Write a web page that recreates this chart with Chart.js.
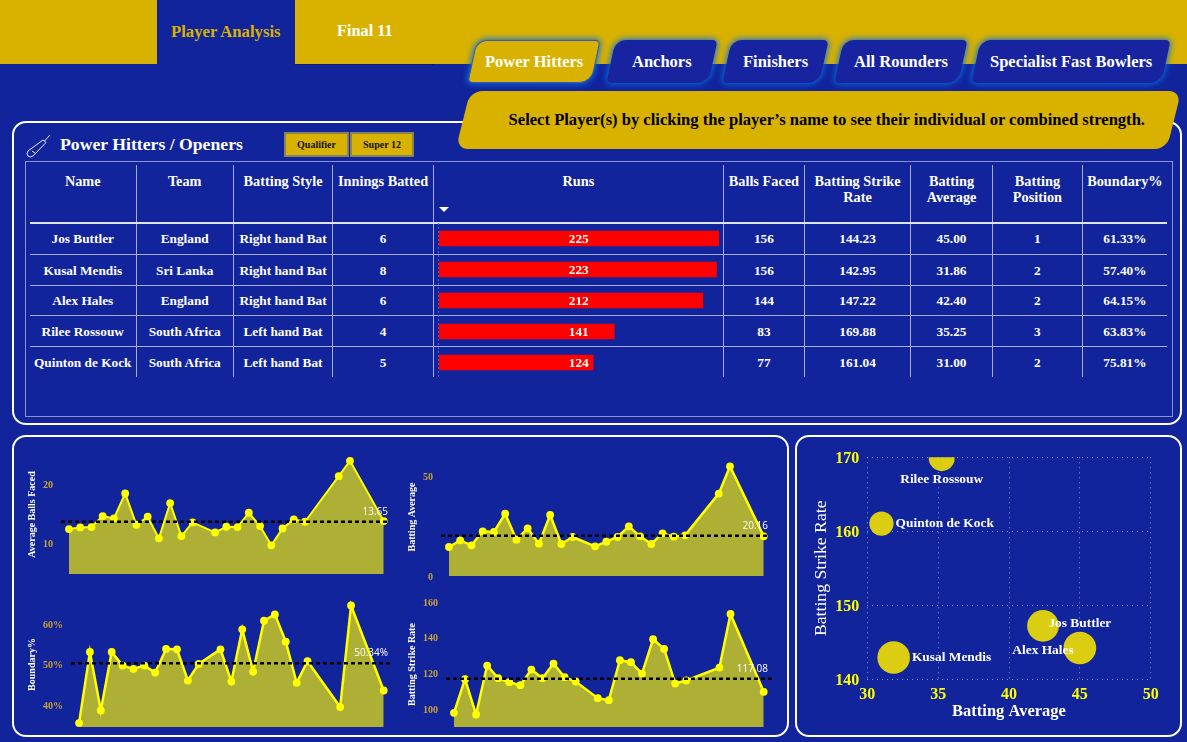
<!DOCTYPE html>
<html>
<head>
<meta charset="utf-8">
<title>Player Analysis</title>
<script src="https://cdn.jsdelivr.net/npm/chart.js@4"></script>
<style>
  html, body { margin: 0; padding: 0; }
  body { width: 1187px; height: 742px; overflow: hidden; background: #11249c; position: relative;
         font-family: "Liberation Serif", serif; font-weight: bold; color: #fff; }
  .abs, canvas { position: absolute; }
  #band { left: 0; top: 0; width: 1187px; height: 64px; background: #d9b200; }
  #bandLine { left: 295px; top: 64px; width: 139px; height: 1px; background: #0c1a78; }
  #tabActive { left: 156.5px; top: 0; width: 138.5px; height: 64px; background: #11249c; }
  .navText { top: 22px; font-size: 16.7px; line-height: 20px; }
  .pill { top: 39.5px; height: 43px; box-sizing: border-box; background: #18249f; transform: skewX(-12deg);
          border-radius: 10px 5px 12px 5px; box-shadow: 0 0 6px 1px #0a6fe0; text-align: center;
          font-size: 16.5px; line-height: 43px; }
  .pill span { display: inline-block; transform: skewX(12deg); }
  .pill.on { background: #d9b200; border: 1px solid #3c5aa8; line-height: 41px; }
  #banner { left: 463px; top: 91px; width: 711px; height: 58px; background: #d9b200; transform: skewX(-14deg);
            border-radius: 12px; }
  #bannerText { left: 456px; top: 110px; width: 689px; text-align: right; color: #000; font-size: 16.57px; line-height: 20px; white-space: nowrap; }
  .panel { box-sizing: border-box; border: 2px solid #fff; border-radius: 14px; }
  #panelTop { left: 12px; top: 121px; width: 1170px; height: 304px; }
  #panelLeft { left: 12px; top: 435px; width: 777px; height: 302px; }
  #panelRight { left: 795px; top: 435px; width: 387px; height: 302px; }
  #tableBox { left: 24.5px; top: 160.5px; width: 1148px; height: 256px; box-sizing: border-box; border: 1.5px solid #8a92d8; }
  #title { left: 60px; top: 134px; font-size: 17.7px; line-height: 21px; }
  .slicer { top: 132px; height: 25px; box-sizing: border-box; background: #d9b200; border: 2px solid #86825a; color: #111;
            font-size: 10px; line-height: 21px; text-align: center; }
  #tbl { left: 30px; top: 165px; border-collapse: collapse; table-layout: fixed; width: 1137px; font-size: 13.3px; }
  #tbl td, #tbl th { padding: 0; text-align: center; border-right: 1px solid #a6acea; overflow: hidden; white-space: nowrap; font-weight: bold; }
  #tbl th { height: 58px; vertical-align: top; line-height: 16px; padding-top: 8px; box-sizing: border-box; white-space: pre-line; font-size: 14.3px; border-bottom: 2px solid #dfe2f8; }
  #tbl td { vertical-align: middle; }
  #tbl tr.row td { border-bottom: 1px solid #a6acea; }
  #tbl tr.row + tr.row td { padding-top: 2px; }
  #tbl tr.row:last-child td { border-bottom: 0; padding-top: 0; }
  #tbl td:last-child, #tbl th:last-child { border-right: 0; }
  #sortMark { left: 438.5px; top: 207px; width: 0; height: 0; border-left: 5px solid transparent; border-right: 5px solid transparent; border-top: 5px solid #fff; }
</style>
</head>
<body>
<div class="abs" id="band"></div>
<div class="abs" id="bandLine"></div>
<div class="abs" id="tabActive"></div>
<div class="abs navText" style="left:171px;color:#d9b200">Player Analysis</div>
<div class="abs navText" style="left:337px;top:21px;font-size:16.3px">Final 11</div>

<div class="abs panel" id="panelTop"></div>
<div class="abs panel" id="panelLeft"></div>
<div class="abs panel" id="panelRight"></div>

<div class="abs pill on" style="left:472px;width:124px"><span>Power Hitters</span></div>
<div class="abs pill" style="left:611px;width:102px"><span>Anchors</span></div>
<div class="abs pill" style="left:727px;width:97px"><span>Finishers</span></div>
<div class="abs pill" style="left:839px;width:124px"><span>All Rounders</span></div>
<div class="abs pill" style="left:976px;width:190px"><span>Specialist Fast Bowlers</span></div>

<div class="abs" id="banner"></div>
<div class="abs" id="bannerText">Select Player(s) by clicking the player’s name to see their individual or combined strength.</div>

<svg class="abs" style="left:26px;top:134px" width="26" height="24" viewBox="0 0 26 24" fill="none" stroke="#e8eafc" stroke-width="1">
  <path d="M17 6 L20 8.5 L7 22 Q4 24 2 22 Q0 20 2 17 Z"/>
  <path d="M18.5 7 L24 1"/>
  <path d="M6 17 L9 19"/>
</svg>
<div class="abs" id="title">Power Hitters / Openers</div>
<div class="abs slicer" style="left:284px;width:65px">Qualifier</div>
<div class="abs slicer" style="left:350px;width:64px">Super 12</div>

<div class="abs" id="tableBox"></div>
<table class="abs" id="tbl">
  <colgroup>
    <col style="width:106px"><col style="width:97.4px"><col style="width:99.2px"><col style="width:101px"><col style="width:289.6px">
    <col style="width:81.4px"><col style="width:106px"><col style="width:81.9px"><col style="width:89.9px"><col style="width:84.6px">
  </colgroup>
  <thead><tr id="headRow"></tr></thead>
  <tbody id="tblBody"></tbody>
</table>
<div class="abs" id="sortMark"></div>

<canvas id="runsChart" width="289" height="155" style="left:434px;top:223px"></canvas>
<canvas id="ballsChart" width="371" height="135" style="left:26px;top:447px"></canvas>
<canvas id="avgChart" width="370" height="134" style="left:406px;top:450px"></canvas>
<canvas id="boundaryChart" width="372" height="141" style="left:26px;top:594px"></canvas>
<canvas id="srChart" width="374" height="141" style="left:406px;top:594px"></canvas>
<canvas id="bubbleChart" width="352" height="277" style="left:811px;top:445px"></canvas>

<script>
// table data
const headers = ['Name', 'Team', 'Batting Style', 'Innings Batted', 'Runs', 'Balls Faced', 'Batting Strike\nRate', 'Batting\nAverage', 'Batting\nPosition', 'Boundary%'];
const players = ['Jos Buttler', 'Kusal Mendis', 'Alex Hales', 'Rilee Rossouw', 'Quinton de Kock'];
const teams = ['England', 'Sri Lanka', 'England', 'South Africa', 'South Africa'];
const styles = ['Right hand Bat', 'Right hand Bat', 'Right hand Bat', 'Left hand Bat', 'Left hand Bat'];
const innings = [6, 8, 6, 4, 5];
const runs = [225, 223, 212, 141, 124];
const ballsFaced = [156, 156, 144, 83, 77];
const strikeRate = [144.23, 142.95, 147.22, 169.88, 161.04];
const battingAvg = [45.00, 31.86, 42.40, 35.25, 31.00];
const position = [1, 2, 2, 3, 2];
const boundary = ['61.33%', '57.40%', '64.15%', '63.83%', '75.81%'];

// small multiples (null = player has no point there)
const ballsSeries = [12.43, 12.71, 12.77, 14.63, 14.24, 18.47, 13.16, 14.52, 10.85, 16.84, 11.24, 13.56, null, 11.86, 12.82, 12.77, 15.2, 12.94, 9.66, 12.54, 14.07, 13.67, null, null, 21.41, 24.01, null, null, 13.79];
const avgSeries = [14.5, 17.83, 15.33, 22.33, 22, 31.17, 18.17, 23.83, 16.17, 30.5, 16, 19.5, null, 14.83, 17.17, 19.5, 24.83, 19.83, 16, 21.33, 19.67, 20.33, null, null, 41.17, 54.83, null, null, 19.83];
const boundarySeries = [35.51, 53.13, 38.64, 53.13, 49.75, 48.93, 49.75, 48.02, 53.87, 53.79, 46.05, 50.16, null, 53.79, 45.8, 58.72, 48.27, 60.86, 62.43, 55.68, 45.47, 50.82, null, null, 39.47, 64.65, null, null, 43.58];
const srSeries = [98.03, 116.83, 97.09, 124.47, 117.39, 115.16, 113.48, 122.23, 117.39, 125.59, 117.95, 115.53, null, 106.22, 105.1, 127.45, 126.33, 120, 139.18, 133.78, 114.41, 116.09, null, null, 123.35, 153.33, null, null, 109.76];

const serif = '"Liberation Serif", serif';
const gold = '#c9a233';

// tick labels must not push the plot area around
const noOverhang = s => { s.paddingLeft = s.paddingRight = s.paddingTop = s.paddingBottom = 0; };

// fill table
document.getElementById('headRow').innerHTML = headers.map(h => '<th>' + h + '</th>').join('');
const rowHeights = [31, 31, 30, 31, 31];
document.getElementById('tblBody').innerHTML = players.map((p, i) =>
  '<tr class="row" style="height:' + rowHeights[i] + 'px">' +
  [p, teams[i], styles[i], innings[i], '', ballsFaced[i], strikeRate[i].toFixed(2), battingAvg[i].toFixed(2), position[i], boundary[i]]
    .map(v => '<td>' + v + '</td>').join('') + '</tr>').join('');

// runs bars, labels sit in the middle of the column
new Chart(document.getElementById('runsChart'), {
  type: 'bar',
  data: { labels: players, datasets: [{ data: runs, backgroundColor: '#ff0000', barThickness: 15 }] },
  options: {
    indexAxis: 'y', responsive: false, animation: false,
    layout: { padding: { left: 4.6, right: 4, top: 0, bottom: 0 } },
    plugins: { legend: { display: false }, tooltip: { enabled: false } },
    scales: {
      x: {
        min: 0, max: 225, display: true,
        afterBuildTicks: s => { s.ticks = [{ value: 0 }]; },
        afterFit: s => { s.height = 0; noOverhang(s); },
        ticks: { display: false },
        grid: { color: '#4f63d0', drawTicks: false },
        border: { display: false, dash: [2, 2] }
      },
      y: { display: false }
    }
  },
  plugins: [{
    id: 'runLabels',
    afterDatasetsDraw(chart) {
      const c = chart.ctx, a = chart.chartArea;
      c.save();
      c.font = 'bold 13.3px ' + serif;
      c.fillStyle = '#fff';
      c.textAlign = 'center';
      c.textBaseline = 'middle';
      chart.getDatasetMeta(0).data.forEach((b, i) => c.fillText(runs[i], (a.left + a.right) / 2, b.y + 1));
      c.restore();
    }
  }]
});

// area chart with dashed average line
function sparkChart(id, cfg) {
  const pts = [];
  cfg.values.forEach((v, i) => { if (v !== null) pts.push({ x: i, y: v }); });
  new Chart(document.getElementById(id), {
    type: 'scatter',
    data: {
      datasets: [
        { data: [{ x: cfg.xMin, y: cfg.mean }, { x: cfg.xMax, y: cfg.mean }], showLine: true, pointRadius: 0,
          borderColor: '#000', borderWidth: 2.5, borderDash: [4, 3], clip: false },
        { data: pts, showLine: true, borderColor: '#ffff00', borderWidth: cfg.lineWidth, pointRadius: 3.9,
          pointBackgroundColor: '#ffff00', pointBorderWidth: 0, fill: 'start', backgroundColor: '#adb035', clip: false }
      ]
    },
    options: {
      responsive: false, animation: false,
      layout: { padding: { top: 8, bottom: 8, right: 8, left: 0 } },
      plugins: { legend: { display: false }, tooltip: { enabled: false } },
      scales: {
        x: { type: 'linear', display: false, min: cfg.xMin, max: cfg.xMax },
        y: {
          min: cfg.yMin, max: cfg.yMax,
          afterBuildTicks: s => { s.ticks = cfg.ticks.map(v => ({ value: v })); },
          afterFit: s => { s.width = cfg.axisWidth; noOverhang(s); },
          grid: { display: false, drawTicks: false },
          border: { display: false },
          ticks: { color: gold, padding: 8, labelOffset: 1, font: { family: serif, weight: 'bold', size: 10 }, callback: v => v + (cfg.suffix || '') },
          title: { display: true, text: cfg.title, color: '#fff', padding: 0, font: { family: serif, weight: 'bold', size: 10 } }
        }
      }
    },
    plugins: [{
      id: 'meanLabel',
      afterDraw(chart) {
        const c = chart.ctx;
        c.save();
        c.font = '10px "Open Sans", sans-serif';
        c.fillStyle = '#fff';
        c.textAlign = 'right';
        c.textBaseline = 'middle';
        c.fillText(cfg.meanText, chart.chartArea.right - cfg.labelInset, chart.scales.y.getPixelForValue(cfg.mean) - 10);
        c.restore();
      }
    }]
  });
}

sparkChart('ballsChart', { values: ballsSeries, mean: 13.65, meanText: '13.65', ticks: [10, 20], yMin: 4.8, yMax: 25,
  xMin: -0.71, xMax: 28.47, axisWidth: 35, lineWidth: 2, title: 'Average Balls Faced', labelInset: 1 });
sparkChart('avgChart', { values: avgSeries, mean: 20.16, meanText: '20.16', ticks: [0, 50], yMin: 0, yMax: 59,
  xMin: -0.71, xMax: 28.38, axisWidth: 35, lineWidth: 2.5, title: 'Batting Average', labelInset: 0 });
sparkChart('boundaryChart', { values: boundarySeries, mean: 50.34, meanText: '50.34%', ticks: [40, 50, 60], suffix: '%', yMin: 34.54, yMax: 65.5,
  xMin: -0.74, xMax: 28.58, axisWidth: 45, lineWidth: 2.5, title: 'Boundary%', labelInset: 2 });
sparkChart('srChart', { values: srSeries, mean: 117.08, meanText: '117.08', ticks: [100, 120, 140, 160], yMin: 90.1, yMax: 160,
  xMin: -0.72, xMax: 28.75, axisWidth: 40, lineWidth: 2.5, title: 'Batting Strike Rate', labelInset: 4 });

// scatter, bubble size follows runs
const labelSides = ['top', 'right', 'bottom', 'bottom', 'right'];
const bubbleTick = { color: '#ffff00', font: { family: serif, weight: 'bold', size: 16 } };
const bubbleGrid = { color: 'rgba(190,195,240,0.7)', drawTicks: false };

new Chart(document.getElementById('bubbleChart'), {
  type: 'bubble',
  data: { datasets: [{
    data: players.map((p, i) => ({ x: battingAvg[i], y: strikeRate[i], r: Math.sqrt(runs[i]) * 1.09 })),
    backgroundColor: '#dbce12', borderWidth: 0
  }] },
  options: {
    responsive: false, animation: false,
    layout: { autoPadding: false, padding: { top: 12.3, right: 12.3, left: 0, bottom: 0 } },
    plugins: { legend: { display: false }, tooltip: { enabled: false } },
    scales: {
      x: {
        type: 'linear', min: 30, max: 50,
        afterFit: s => { s.height = 42.7; noOverhang(s); },
        ticks: { ...bubbleTick, stepSize: 5, padding: 6, maxRotation: 0 },
        grid: bubbleGrid, border: { display: false, dash: [1, 4] },
        title: { display: true, text: 'Batting Average', color: '#fff', padding: 0, font: { family: serif, weight: 'bold', size: 16.5 } }
      },
      y: {
        type: 'linear', min: 140, max: 170,
        afterFit: s => { s.width = 56.3; noOverhang(s); },
        ticks: { ...bubbleTick, stepSize: 10, padding: 8, labelOffset: 1.5 },
        grid: bubbleGrid, border: { display: false, dash: [1, 4] },
        title: { display: true, text: 'Batting Strike Rate', color: '#fff', padding: 0, font: { family: serif, weight: 'normal', size: 17.7 } }
      }
    }
  },
  plugins: [{
    id: 'nameLabels',
    afterDraw(chart) {
      const c = chart.ctx;
      c.save();
      c.font = 'bold 13.4px ' + serif;
      c.fillStyle = '#fff';
      c.textBaseline = 'middle';
      chart.getDatasetMeta(0).data.forEach((pt, i) => {
        const r = pt.options.radius;
        if (labelSides[i] === 'right') {
          c.textAlign = 'left';
          c.fillText(players[i], pt.x + r + 2, pt.y);
        } else {
          c.textAlign = 'center';
          c.fillText(players[i], pt.x, labelSides[i] === 'top' ? pt.y - r - 8.5 : pt.y + r + 8.5);
        }
      });
      c.restore();
    }
  }]
});
</script>
</body>
</html>
